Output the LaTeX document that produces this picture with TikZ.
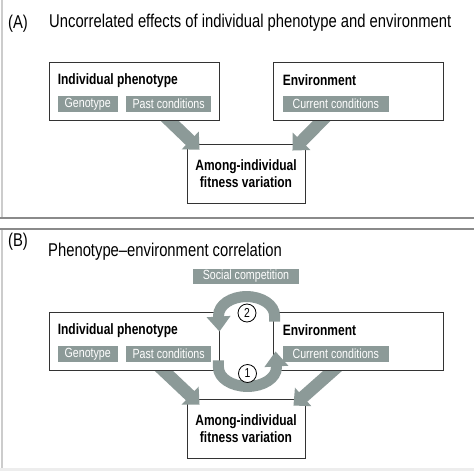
\documentclass[tikz,border=0pt]{standalone}
\usepackage{fontspec}
\setmainfont{Liberation Sans}[FakeStretch=0.80]
\usetikzlibrary{positioning,calc,backgrounds}
\usetikzlibrary{arrows.meta}
\definecolor{tagfill}{HTML}{8C9A98}
\definecolor{framegray}{HTML}{8A8A8A}
\definecolor{sidegray}{HTML}{CCCCCC}
\tikzset{myarrow/.style={draw=tagfill, line width=12.5pt, -{Triangle[length=13pt, width=24pt]}}}
\tikzset{myloop/.style={draw=tagfill, line width=11pt, -{Triangle[length=15pt, width=23pt]}}}
\tikzset{mybox/.style={draw=black!80, fill=white, line width=0.9pt, minimum width=170pt, minimum height=58pt, inner sep=0pt}}
\tikzset{mytag/.style={fill=tagfill, text=white, font=\fontsize{13.3}{15}\selectfont, minimum height=16pt, inner sep=0pt}}
\tikzset{heading/.style={font=\fontsize{18.5}{22}\selectfont, inner sep=0pt}}
\tikzset{boxtitle/.style={font=\bfseries\fontsize{15}{16.5}\selectfont}}
\tikzset{loopnum/.style={circle, draw, fill=white, line width=0.8pt, minimum size=18pt, inner sep=0pt, font=\fontsize{13}{15}\selectfont}}

\begin{document}
\begin{tikzpicture}[x=1pt, y=-1pt]
		\useasboundingbox (0,0) rectangle (474,471);
		
		% FRAME
		\begin{scope}[on background layer]
			\fill[white] (0,0) rectangle (474,471);
			\fill[black!7] (0,468) rectangle (474,471);
			\draw[sidegray, line width=1.5pt] (2,0) -- (2,218);
			\draw[sidegray, line width=1.5pt] (2,229) -- (2,468);
			\draw[framegray, line width=1.2pt] (0,218) -- (474,218);
			\draw[framegray, line width=1.2pt] (0,229) -- (474,229);
		\end{scope}
		
		\node[heading, anchor=west] (labA) at (8,24) {(A)};
		\node[heading, anchor=west] (titA) at (49,23) {Uncorrelated effects of individual phenotype and environment};
		\node[heading, anchor=west] (labB) at (8,242) {(B)};
		\node[heading, anchor=west] (titB) at (48,252) {Phenotype–environment correlation};
		
		% PANELS
		\foreach \p/\dy/\df/\ls/\rs/\rt in {A/0/0/28/-29/-13, B/250/5/22/-17/-12} {
			\node[mybox] (ip\p) at (134,91+\dy) {};
			\node[mybox] (env\p) at (358,91+\dy) {};
			\node[boxtitle, inner sep=0pt, anchor=west] (ipT\p) at ([xshift=9pt, yshift=-19pt]ip\p.north west) {Individual phenotype};
			\node[boxtitle, inner sep=0pt, anchor=west] (envT\p) at ([xshift=10pt, yshift=-19pt]env\p.north west) {Environment};
			\node[mytag, minimum width=60pt, anchor=north west] (gen\p) at ([xshift=9pt, yshift=-34pt]ip\p.north west) {Genotype};
			\node[mytag, minimum width=85pt, right=8pt of gen\p] (past\p) {Past conditions};
			\node[mytag, minimum width=106pt, anchor=north west] (cur\p) at ([xshift=10pt, yshift=-34pt]env\p.north west) {Current conditions};
			\begin{scope}[on background layer]
				\node[mybox, boxtitle, minimum width=118pt, minimum height=59pt, align=center] (fit\p) at (246,173.5+\dy+\df) {Among-individual\\fitness variation};
				\draw[myarrow] ([xshift=\ls pt, yshift=7pt]ip\p.south) -- ([xshift=13pt, yshift=-6pt]fit\p.north west);
				\draw[myarrow] ([xshift=\rs pt, yshift=7pt]env\p.south) -- ([xshift=\rt pt, yshift=-7pt]fit\p.north east);
			\end{scope}
		}
		
		% LOOP
		\node[mytag, minimum width=106pt, minimum height=15pt] (social) at (246,276.5) {Social competition};
		\draw[myloop] ([xshift=2pt, yshift=-10pt]envB.north west) -- ++(0,6pt) arc[start angle=0, end angle=180, x radius=28pt, y radius=19pt] -- ([yshift=-20pt]ipB.north east);
		\draw[myloop] ([xshift=-1pt, yshift=10pt]ipB.south east) -- ++(0,-7pt) arc[start angle=180, end angle=360, x radius=29pt, y radius=19pt] -- ([xshift=3pt, yshift=19pt]envB.south west);
		\node[loopnum] (two) at (247,313) {2};
		\node[loopnum] (one) at (247.5,373.5) {1};
		
	\end{tikzpicture}
\end{document}
